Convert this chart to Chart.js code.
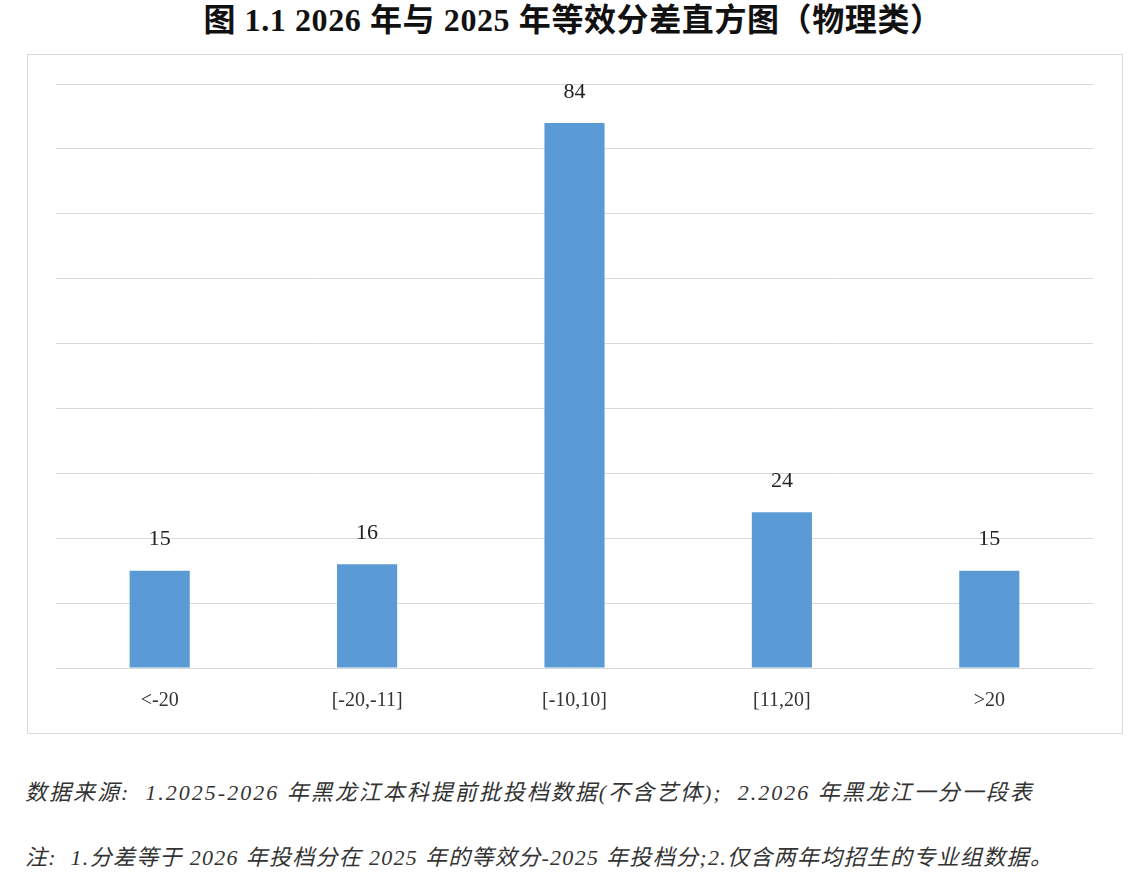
<!DOCTYPE html>
<html>
<head>
<meta charset="utf-8">
<script src="https://cdn.jsdelivr.net/npm/chart.js@4"></script>
<style>
  body { margin: 0; background: #fff; width: 1146px; height: 874px; position: relative; overflow: hidden; }
  #title {
    position: absolute; left: 0; width: 1146px; top: -6px; text-align: center; letter-spacing: 0.6px;
    font-family: "Liberation Serif", "Noto Sans CJK SC", serif; font-weight: bold; font-size: 32px; color: #111;
  }
  #box {
    position: absolute; left: 27px; top: 54px; width: 1096px; height: 680px;
    border: 1px solid #d9d9d9; box-sizing: border-box;
  }
  .note {
    position: absolute; left: 25px; font-style: italic; font-size: 22px; color: #333;
    font-family: "Liberation Serif", "Noto Sans CJK SC", serif; white-space: nowrap;
  }
</style>
</head>
<body>
<div id="title">图 1.1 2026 年与 2025 年等效分差直方图（物理类）</div>
<div id="box"><canvas id="chart"></canvas></div>
<div class="note" style="top:774px; letter-spacing:2px">数据来源:&nbsp; 1.2025-2026 年黑龙江本科提前批投档数据(不含艺体);&nbsp; 2.2026 年黑龙江一分一段表</div>
<div class="note" style="top:839px; letter-spacing:1.3px">注:&nbsp; 1.分差等于 2026 年投档分在 2025 年的等效分-2025 年投档分;2.仅含两年均招生的专业组数据。</div>
<script>
// 分差区间和数量
const categories = ['<-20', '[-20,-11]', '[-10,10]', '[11,20]', '>20'];
const counts = [15, 16, 84, 24, 15];
const yMax = 90;
const yStep = 10;

// 柱子上方的数值标签
const valueLabels = {
  id: 'valueLabels',
  afterDatasetsDraw(chart) {
    const ctx = chart.ctx;
    const meta = chart.getDatasetMeta(0);
    ctx.save();
    ctx.font = '22px "Liberation Serif", serif';
    ctx.fillStyle = '#222';
    ctx.textAlign = 'center';
    ctx.textBaseline = 'bottom';
    meta.data.forEach((bar, i) => {
      ctx.fillText(counts[i], bar.x, bar.y - 20);
    });
    ctx.restore();
  }
};

const canvas = document.getElementById('chart');
canvas.style.width = '1094px';
canvas.style.height = '678px';

new Chart(canvas.getContext('2d'), {
  type: 'bar',
  data: {
    labels: categories,
    datasets: [{
      data: counts,
      backgroundColor: '#5b9bd5',
      categoryPercentage: 1,
      barPercentage: 0.29
    }]
  },
  options: {
    responsive: false,
    animation: false,
    layout: { padding: { top: 29, left: 28, right: 29, bottom: 7 } },
    plugins: { legend: { display: false }, tooltip: { enabled: false } },
    scales: {
      x: {
        grid: { display: false },
        border: { display: false },
        ticks: {
          padding: 13,
          color: '#333',
          font: { family: '"Liberation Serif", serif', size: 20 }
        }
      },
      y: {
        min: 0,
        max: yMax,
        ticks: { stepSize: yStep, display: false },
        border: { display: false },
        grid: { color: '#d9d9d9', drawTicks: false }
      }
    }
  },
  plugins: [valueLabels]
});
</script>
</body>
</html>
